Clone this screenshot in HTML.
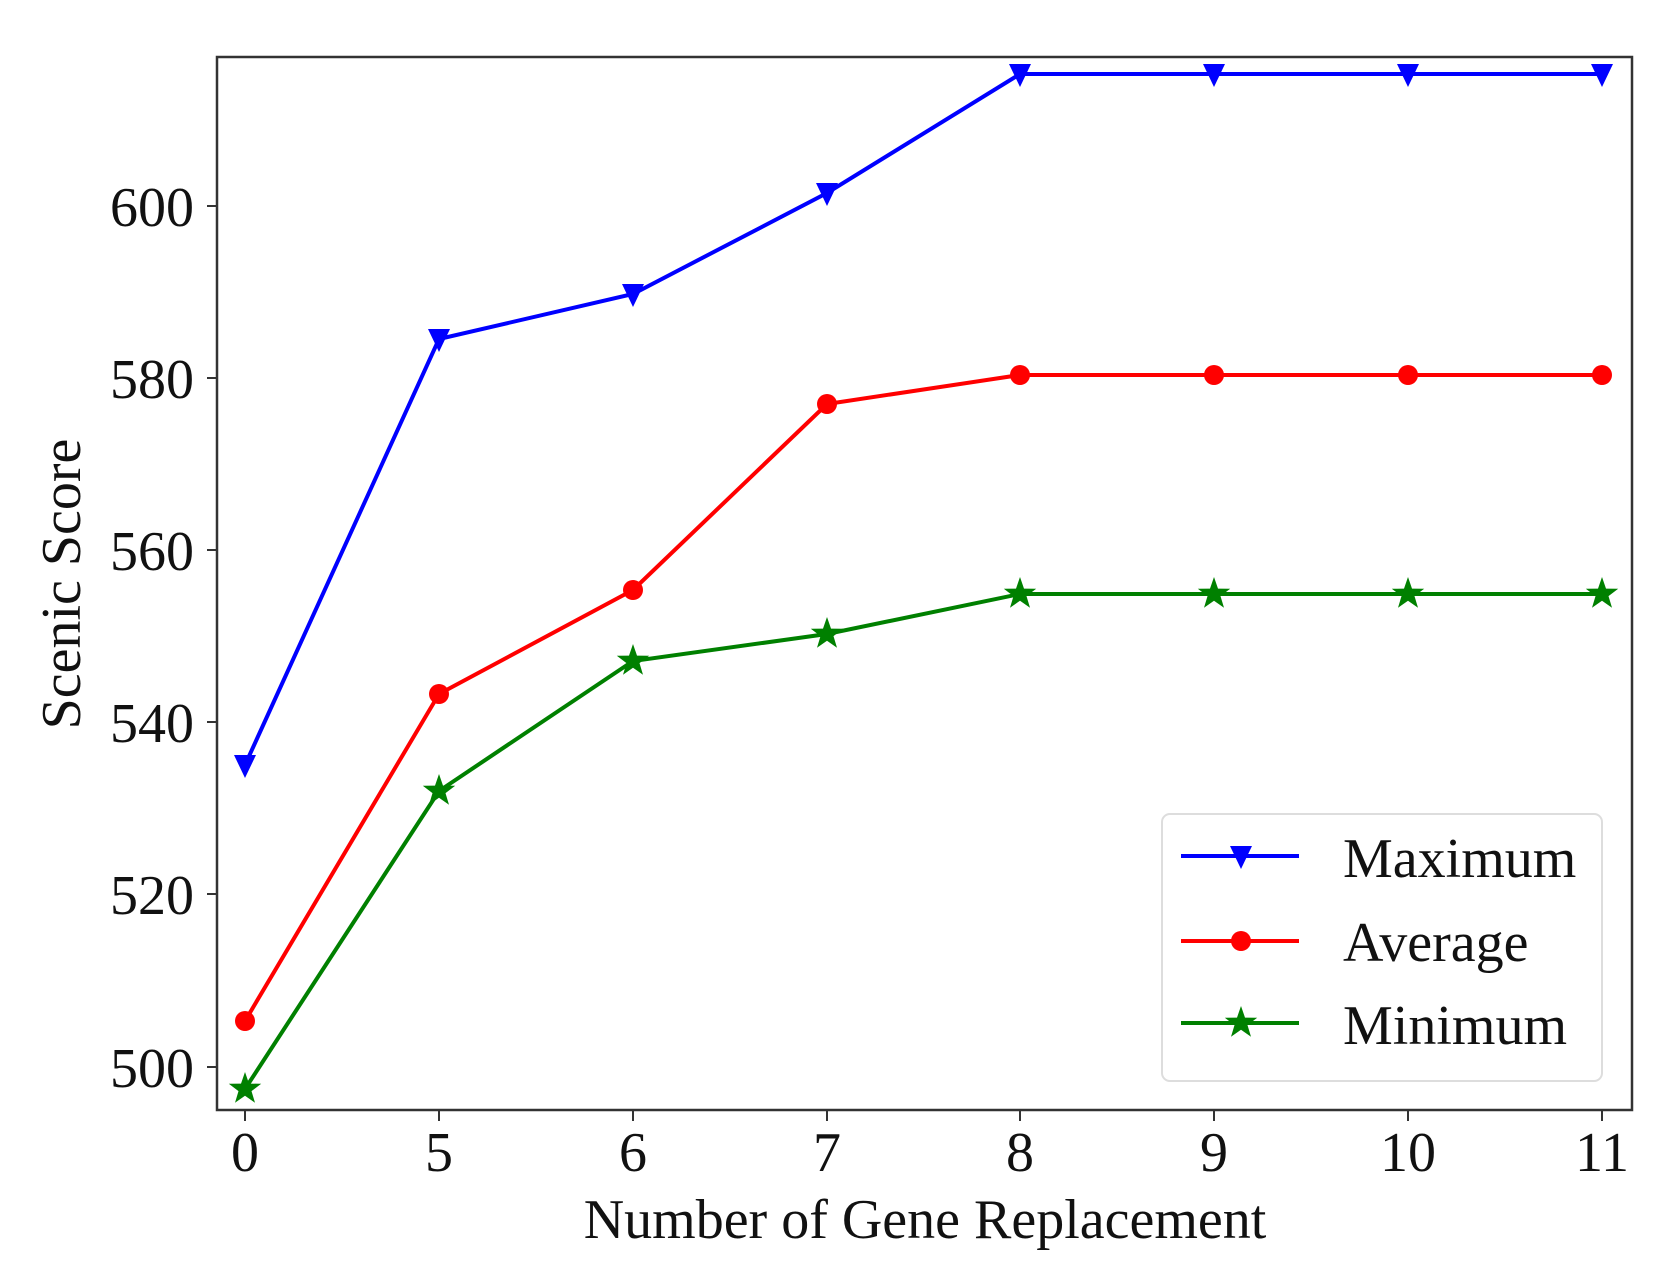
<!DOCTYPE html>
<html><head><meta charset="utf-8"><style>body{margin:0;background:#fff}svg{display:block}text{font-family:"Liberation Serif",serif;fill:#111}</style></head>
<body>
<svg width="1670" height="1284" viewBox="0 0 1670 1284" xmlns="http://www.w3.org/2000/svg">
<defs>
<path id="tri" d="M-11,-10 L11,-10 L0,13 Z"/>
<path id="star" d="M0,-17 L4,-5.4 L16.2,-5.2 L6.5,2.1 L10,13.7 L0,6.8 L-10,13.7 L-6.5,2.1 L-16.2,-5.2 L-4,-5.4 Z"/>
</defs>
<rect x="217" y="57" width="1415" height="1053" fill="none" stroke="#333" stroke-width="2.5"/>
<g stroke="#333" stroke-width="2">
<line x1="207" y1="206" x2="217" y2="206"/><line x1="207" y1="378" x2="217" y2="378"/><line x1="207" y1="550" x2="217" y2="550"/><line x1="207" y1="722" x2="217" y2="722"/><line x1="207" y1="894" x2="217" y2="894"/><line x1="207" y1="1067" x2="217" y2="1067"/>
<line x1="245" y1="1110" x2="245" y2="1121"/><line x1="439" y1="1110" x2="439" y2="1121"/><line x1="633" y1="1110" x2="633" y2="1121"/><line x1="827" y1="1110" x2="827" y2="1121"/><line x1="1020" y1="1110" x2="1020" y2="1121"/><line x1="1214" y1="1110" x2="1214" y2="1121"/><line x1="1408" y1="1110" x2="1408" y2="1121"/><line x1="1602" y1="1110" x2="1602" y2="1121"/>
</g>
<g font-size="56" text-anchor="end">
<text x="194" y="226">600</text><text x="194" y="398">580</text><text x="194" y="570">560</text><text x="194" y="742">540</text><text x="194" y="914">520</text><text x="194" y="1087">500</text>
</g>
<g font-size="56" text-anchor="middle">
<text x="245" y="1171">0</text><text x="439" y="1171">5</text><text x="633" y="1171">6</text><text x="827" y="1171">7</text><text x="1020" y="1171">8</text><text x="1214" y="1171">9</text><text x="1408" y="1171">10</text><text x="1602" y="1171">11</text>
</g>
<text x="925" y="1238" font-size="56" text-anchor="middle">Number of Gene Replacement</text>
<text transform="translate(80,584) rotate(-90)" font-size="56" text-anchor="middle">Scenic Score</text>
<polyline fill="none" stroke="#0000ff" stroke-width="4" points="245,765 439,339 633,294 827,193 1020,74 1214,74 1408,74 1602,74"/>
<g fill="#0000ff"><use href="#tri" x="245" y="765"/><use href="#tri" x="439" y="339"/><use href="#tri" x="633" y="294"/><use href="#tri" x="827" y="193"/><use href="#tri" x="1020" y="74"/><use href="#tri" x="1214" y="74"/><use href="#tri" x="1408" y="74"/><use href="#tri" x="1602" y="74"/></g>
<polyline fill="none" stroke="#ff0000" stroke-width="4" points="245,1021 439,694 633,590 827,404 1020,375 1214,375 1408,375 1602,375"/>
<g fill="#ff0000"><circle cx="245" cy="1021" r="10"/><circle cx="439" cy="694" r="10"/><circle cx="633" cy="590" r="10"/><circle cx="827" cy="404" r="10"/><circle cx="1020" cy="375" r="10"/><circle cx="1214" cy="375" r="10"/><circle cx="1408" cy="375" r="10"/><circle cx="1602" cy="375" r="10"/></g>
<polyline fill="none" stroke="#008000" stroke-width="4" points="245,1089 439,791 633,661 827,634 1020,594 1214,594 1408,594 1602,594"/>
<g fill="#008000"><use href="#star" x="245" y="1089"/><use href="#star" x="439" y="791"/><use href="#star" x="633" y="661"/><use href="#star" x="827" y="634"/><use href="#star" x="1020" y="594"/><use href="#star" x="1214" y="594"/><use href="#star" x="1408" y="594"/><use href="#star" x="1602" y="594"/></g>
<rect x="1162" y="814" width="440" height="267" rx="8" fill="#fff" fill-opacity="0.8" stroke="#ddd" stroke-width="2"/>
<line x1="1181" y1="856" x2="1299" y2="856" stroke="#0000ff" stroke-width="4"/><use href="#tri" x="1241" y="856" fill="#0000ff"/>
<line x1="1181" y1="941" x2="1299" y2="941" stroke="#ff0000" stroke-width="4"/><circle cx="1241" cy="941" r="10" fill="#ff0000"/>
<line x1="1181" y1="1023" x2="1299" y2="1023" stroke="#008000" stroke-width="4"/><use href="#star" x="1241" y="1023" fill="#008000"/>
<g font-size="56"><text x="1343" y="877">Maximum</text><text x="1343" y="961">Average</text><text x="1343" y="1044">Minimum</text></g>
</svg>
</body></html>
